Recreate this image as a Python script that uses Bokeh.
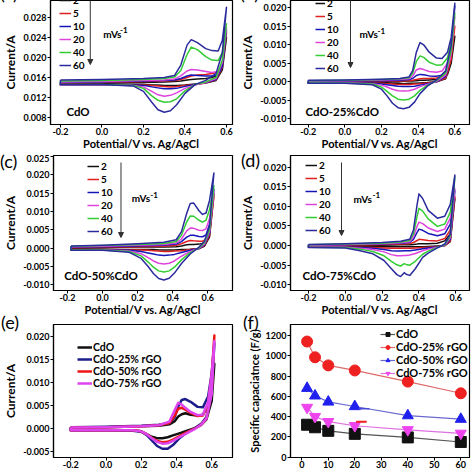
from bokeh.plotting import figure
from bokeh.layouts import column, row
from bokeh.models import (Range1d, FixedTicker, PrintfTickFormatter, Legend,
                          LegendItem, Label, Arrow, NormalHead, Div)
from bokeh.embed import file_html
from bokeh.resources import INLINE

# ------------------------------------------------------------------ data
SCAN_RATES = ["2", "5", "10", "20", "40", "60"]          # mV/s
CV_XTICKS = [-0.2, 0.0, 0.2, 0.4, 0.6]
PANEL_LETTERS = ["(a)", "(b)", "(c)", "(d)", "(e)", "(f)"]

# (a) CdO : potential (V) / current (mA)
A_E_UP = [-0.2, 0.0, 0.2, 0.3, 0.35, 0.38, 0.41, 0.43, 0.46, 0.50, 0.53, 0.56, 0.58, 0.60]
A_I_UP = [
    [14.8, 14.9, 15.0, 15.1, 15.2, 15.3, 15.5, 15.6, 15.7, 15.8, 16.0, 16.4, 17.6, 24.0],
    [14.9, 15.0, 15.2, 15.3, 15.4, 15.6, 16.0, 16.3, 16.5, 16.6, 16.8, 17.1, 18.5, 25.0],
    [15.0, 15.1, 15.3, 15.4, 15.5, 15.8, 16.3, 16.5, 16.4, 16.3, 16.3, 16.6, 18.2, 25.5],
    [15.1, 15.2, 15.4, 15.5, 15.7, 16.3, 17.3, 17.6, 17.5, 17.2, 17.0, 17.2, 19.0, 26.0],
    [15.3, 15.4, 15.6, 15.8, 16.1, 17.4, 20.6, 22.1, 21.6, 20.2, 19.5, 19.4, 21.0, 26.8],
    [15.5, 15.6, 15.8, 16.0, 16.4, 18.5, 22.5, 23.6, 23.0, 21.8, 21.4, 21.3, 23.5, 30.1],
]
A_E_DN = [0.60, 0.58, 0.55, 0.50, 0.45, 0.40, 0.36, 0.33, 0.30, 0.27, 0.24, 0.20, 0.15, 0.0, -0.2]
A_I_DN = [
    [24.0, 17.5, 15.4, 14.9, 14.7, 14.5, 14.4, 14.4, 14.4, 14.5, 14.5, 14.6, 14.6, 14.6, 14.6],
    [25.0, 18.0, 15.5, 14.9, 14.6, 14.4, 14.2, 14.1, 14.2, 14.3, 14.4, 14.5, 14.5, 14.5, 14.5],
    [25.5, 18.5, 15.6, 15.0, 14.6, 14.2, 13.8, 13.7, 13.7, 13.9, 14.1, 14.4, 14.5, 14.5, 14.5],
    [26.0, 19.0, 15.8, 15.0, 14.5, 13.8, 12.9, 12.4, 12.2, 12.5, 13.2, 14.1, 14.4, 14.5, 14.5],
    [26.8, 19.5, 16.0, 15.1, 14.6, 13.3, 11.7, 11.1, 11.0, 11.4, 12.3, 13.8, 14.4, 14.6, 14.6],
    [30.1, 21.0, 16.8, 15.4, 14.6, 12.8, 10.5, 9.3, 9.0, 9.5, 11.0, 13.2, 14.3, 14.6, 14.6],
]
A_YTICKS = [0.008, 0.012, 0.016, 0.020, 0.024, 0.028]

# (b) CdO-25%CdO
B_E_UP = [-0.2, 0.0, 0.2, 0.3, 0.35, 0.37, 0.39, 0.41, 0.43, 0.46, 0.50, 0.53, 0.56, 0.58, 0.60]
B_I_UP = [
    [0.0, 0.0, 0.1, 0.1, 0.2, 0.2, 0.3, 0.4, 0.4, 0.5, 0.6, 0.9, 2.0, 5.0, 12.3],
    [0.0, 0.1, 0.2, 0.2, 0.3, 0.4, 0.6, 0.8, 0.9, 0.9, 1.0, 1.3, 2.5, 6.0, 15.0],
    [0.1, 0.2, 0.3, 0.4, 0.6, 0.9, 1.7, 2.0, 1.9, 1.6, 1.5, 1.8, 3.5, 8.0, 20.5],
    [0.2, 0.3, 0.5, 0.6, 0.8, 1.5, 3.2, 3.6, 3.3, 2.8, 2.6, 2.9, 5.0, 9.5, 17.5],
    [0.3, 0.4, 0.6, 0.8, 1.1, 2.3, 5.5, 7.0, 6.6, 5.3, 4.5, 4.6, 6.5, 10.5, 18.5],
    [0.4, 0.5, 0.7, 0.9, 1.3, 3.0, 8.0, 10.6, 10.0, 8.0, 6.4, 6.3, 8.0, 12.0, 21.2],
]
B_E_DN = [0.60, 0.58, 0.55, 0.50, 0.45, 0.41, 0.38, 0.35, 0.32, 0.29, 0.26, 0.23, 0.20, 0.15, 0.0, -0.2]
B_I_DN = [
    [12.3, 5.0, 0.8, 0.0, -0.2, -0.3, -0.4, -0.4, -0.5, -0.4, -0.4, -0.3, -0.3, -0.3, -0.3, -0.3],
    [15.0, 6.0, 1.0, 0.0, -0.3, -0.5, -0.6, -0.7, -0.7, -0.7, -0.6, -0.5, -0.4, -0.3, -0.3, -0.3],
    [20.5, 8.0, 1.5, 0.0, -0.5, -0.9, -1.2, -1.3, -1.3, -1.2, -1.0, -0.8, -0.6, -0.4, -0.3, -0.3],
    [17.5, 7.5, 1.8, 0.1, -0.7, -1.3, -2.0, -2.4, -2.5, -2.4, -2.0, -1.4, -0.9, -0.5, -0.3, -0.3],
    [18.5, 8.5, 2.4, 0.3, -1.0, -2.3, -3.8, -4.7, -4.9, -4.7, -3.8, -2.6, -1.4, -0.6, -0.3, -0.3],
    [21.2, 10.0, 3.0, 0.5, -1.2, -3.2, -5.5, -6.9, -7.3, -7.0, -5.8, -3.8, -2.0, -0.8, -0.4, -0.4],
]
B_YTICKS = [-0.010, -0.005, 0.0, 0.005, 0.010, 0.015, 0.020]

# (c) CdO-50%CdO
C_E_UP = [-0.18, 0.0, 0.2, 0.35, 0.42, 0.45, 0.48, 0.50, 0.52, 0.55, 0.57, 0.59, 0.61, 0.635]
C_I_UP = [
    [0.1, 0.2, 0.3, 0.3, 0.4, 0.6, 0.9, 1.0, 1.0, 1.1, 1.3, 1.8, 4.0, 14.8],
    [0.2, 0.3, 0.4, 0.5, 0.8, 1.2, 1.8, 2.1, 2.0, 1.9, 1.9, 2.4, 5.0, 14.0],
    [0.3, 0.4, 0.6, 0.8, 1.1, 1.8, 3.0, 3.5, 3.5, 3.2, 3.1, 3.6, 6.5, 16.0],
    [0.4, 0.5, 0.8, 1.0, 1.4, 2.5, 4.7, 5.5, 5.4, 4.9, 4.8, 5.3, 8.0, 15.5],
    [0.5, 0.7, 1.0, 1.3, 1.8, 3.5, 7.2, 8.8, 8.7, 7.6, 7.1, 7.6, 10.5, 17.0],
    [0.6, 0.8, 1.2, 1.6, 2.3, 4.5, 9.5, 12.2, 12.3, 10.2, 9.2, 9.6, 13.0, 20.5],
]
C_E_DN = [0.635, 0.61, 0.58, 0.55, 0.50, 0.45, 0.41, 0.38, 0.35, 0.32, 0.29, 0.26, 0.22, 0.15, 0.0, -0.18]
C_I_DN = [
    [14.8, 3.0, 0.5, -0.1, -0.3, -0.4, -0.5, -0.5, -0.5, -0.5, -0.4, -0.4, -0.4, -0.4, -0.3, -0.3],
    [14.0, 3.5, 0.7, -0.1, -0.4, -0.7, -0.8, -0.9, -0.9, -0.8, -0.7, -0.6, -0.5, -0.5, -0.4, -0.4],
    [16.0, 4.0, 0.9, -0.1, -0.6, -1.2, -1.7, -1.9, -2.0, -1.9, -1.6, -1.3, -0.9, -0.6, -0.5, -0.5],
    [15.5, 4.5, 1.1, 0.0, -0.9, -2.2, -3.5, -4.1, -4.3, -4.1, -3.5, -2.6, -1.5, -0.8, -0.5, -0.5],
    [17.0, 5.0, 1.4, 0.1, -1.2, -3.2, -5.2, -6.2, -6.5, -6.2, -5.2, -3.8, -2.1, -0.9, -0.5, -0.5],
    [20.5, 6.0, 1.8, 0.3, -1.6, -4.2, -6.8, -8.2, -8.7, -8.3, -6.9, -5.0, -2.8, -1.1, -0.6, -0.6],
]
C_YTICKS = [-0.010, -0.005, 0.0, 0.005, 0.010, 0.015, 0.020, 0.025]

# (d) CdO-75%CdO
D_E_UP = [-0.2, 0.0, 0.2, 0.3, 0.35, 0.37, 0.39, 0.40, 0.42, 0.45, 0.50, 0.54, 0.57, 0.595]
D_I_UP = [
    [0.0, 0.0, 0.1, 0.2, 0.2, 0.3, 0.4, 0.5, 0.5, 0.5, 0.6, 1.2, 3.0, 12.0],
    [0.0, 0.1, 0.3, 0.4, 0.5, 0.8, 1.3, 1.6, 1.5, 1.3, 1.2, 1.8, 4.0, 12.5],
    [0.1, 0.2, 0.4, 0.6, 0.8, 1.6, 3.4, 4.2, 3.9, 3.1, 2.5, 3.0, 5.5, 14.0],
    [0.1, 0.3, 0.5, 0.7, 1.0, 2.2, 5.0, 6.0, 5.6, 4.5, 3.6, 4.2, 7.0, 14.5],
    [0.2, 0.4, 0.6, 0.9, 1.3, 3.0, 7.5, 9.5, 8.8, 6.8, 4.9, 5.5, 8.5, 17.5],
    [0.3, 0.5, 0.8, 1.1, 1.6, 4.0, 10.5, 13.2, 12.0, 9.0, 7.0, 7.5, 10.5, 18.0],
]
D_E_DN = [0.595, 0.57, 0.54, 0.50, 0.45, 0.42, 0.38, 0.35, 0.33, 0.32, 0.30, 0.28, 0.25, 0.21, 0.15, 0.08, 0.0, -0.2]
D_I_DN = [
    [12.0, 1.0, 0.0, -0.1, -0.2, -0.3, -0.3, -0.3, -0.3, -0.3, -0.3, -0.3, -0.3, -0.3, -0.3, -0.3, -0.3, -0.3],
    [12.5, 1.2, 0.0, -0.2, -0.4, -0.5, -0.6, -0.7, -0.7, -0.7, -0.7, -0.7, -0.7, -0.6, -0.5, -0.4, -0.4, -0.4],
    [14.0, 1.6, 0.0, -0.3, -0.6, -0.8, -1.1, -1.3, -1.3, -1.3, -1.4, -1.4, -1.3, -1.0, -0.7, -0.5, -0.4, -0.4],
    [14.5, 2.0, 0.1, -0.4, -0.9, -1.3, -2.0, -2.4, -2.5, -2.5, -2.6, -2.6, -2.3, -1.6, -1.0, -0.7, -0.4, -0.4],
    [17.5, 2.5, 0.2, -0.5, -1.4, -2.2, -4.0, -5.0, -4.8, -4.6, -5.2, -4.9, -4.0, -2.6, -1.5, -0.9, -0.5, -0.4],
    [18.0, 3.0, 0.4, -0.6, -1.9, -3.0, -5.9, -7.6, -7.3, -6.9, -7.9, -7.4, -5.9, -3.8, -2.1, -1.3, -0.6, -0.5],
]
D_YTICKS = [-0.010, -0.005, 0.0, 0.005, 0.010, 0.015, 0.020]

# (e) comparison at one scan rate
E_NAMES = ["CdO", "CdO-25% rGO", "CdO-50% rGO", "CdO-75% rGO"]
E_E_UP = [-0.2, 0.0, 0.2, 0.3, 0.36, 0.39, 0.41, 0.43, 0.45, 0.48, 0.52, 0.55, 0.58, 0.60, 0.615]
E_I_UP = [
    [0.2, 0.3, 0.5, 0.6, 0.9, 1.6, 2.6, 3.1, 3.3, 3.0, 2.8, 3.0, 5.0, 9.0, 14.1],
    [0.3, 0.4, 0.6, 0.8, 1.2, 2.5, 4.8, 6.2, 6.4, 5.8, 4.7, 4.6, 7.0, 12.0, 18.5],
    [0.2, 0.3, 0.5, 0.7, 1.2, 2.8, 4.3, 4.5, 4.1, 3.4, 2.7, 2.8, 5.5, 11.5, 20.2],
    [0.2, 0.3, 0.5, 0.7, 1.5, 4.0, 5.6, 5.2, 4.5, 3.6, 2.9, 3.0, 5.8, 12.0, 19.0],
]
E_E_DN = [0.615, 0.60, 0.57, 0.54, 0.50, 0.46, 0.42, 0.38, 0.35, 0.32, 0.29, 0.26, 0.23, 0.20, 0.15, 0.0, -0.2]
E_I_DN = [
    [14.1, 6.0, 2.0, 0.8, 0.0, -0.5, -1.0, -1.5, -1.9, -2.1, -2.1, -1.8, -1.2, -0.6, -0.4, -0.4, -0.4],
    [18.5, 8.0, 2.5, 1.0, 0.0, -0.8, -2.0, -3.6, -4.4, -4.4, -3.8, -2.6, -1.4, -0.7, -0.5, -0.4, -0.4],
    [20.2, 8.0, 2.2, 0.8, -0.1, -0.8, -1.6, -2.4, -2.9, -3.0, -2.7, -2.0, -1.2, -0.6, -0.4, -0.4, -0.4],
    [19.0, 7.5, 2.2, 0.8, -0.2, -1.0, -1.8, -2.7, -3.2, -3.3, -2.9, -2.1, -1.2, -0.6, -0.4, -0.4, -0.4],
]
E_YTICKS = [-0.005, 0.0, 0.005, 0.010, 0.015, 0.020]

# (f) specific capacitance (F/g) vs scan rate (mV/s)
F_RATE = [2, 5, 10, 20, 40, 60]
F_CDO = [320, 295, 260, 230, 195, 150]
F_25 = [1140, 985, 905, 855, 745, 630]
F_50 = [680, 605, 545, 500, 410, 375]
F_75 = [490, 400, 350, 310, 270, 235]
F_STRAY_RED_X = [20.5, 24.5]
F_STRAY_RED_Y = [350, 350]
F_STRAY_BLUE_X = [21.5, 25.5]
F_STRAY_BLUE_Y = [478, 478]
F_XTICKS = [0, 10, 20, 30, 40, 50, 60]
F_YTICKS = [0, 200, 400, 600, 800, 1000, 1200]

# ------------------------------------------------------------------ style / layout
FONT = "Lato"
RATE_COLORS = ["#111111", "#E02020", "#1616B8", "#DD44DD", "#33CC33", "#2B2B9E"]
E_COLORS = ["#111111", "#1C1C8A", "#EE1515", "#DD44EE"]

# frame boxes in page pixels (left, top, right, bottom) and data ranges
GEOM = {
    "a": ((49, 0, 232, 124), (-0.248, 0.629), (0.00653, 0.03148)),
    "b": ((290, 0, 469, 124), (-0.2966, 0.680), (-0.01154, 0.02197)),
    "c": ((49, 155, 232, 290), (-0.2798, 0.741), (-0.01155, 0.02527)),
    "d": ((290, 155, 469, 290), (-0.2978, 0.6744), (-0.01145, 0.02298)),
    "e": ((49, 324, 232, 457), (-0.298, 0.718), (-0.00630, 0.0226)),
    "f": ((290, 324, 469, 457), (-4.26, 63.28), (-3.0, 1308.0)),
}
# letter boxes (left, top) in page pixels
LETTER_POS = [(0, -16), (240, -16), (0, 152), (241, 151), (1, 313), (243, 313)]


def px2d(key, px, py):
    (L, T, R, B), (x0, x1), (y0, y1) = GEOM[key]
    return x0 + (px - L) / (R - L) * (x1 - x0), y1 - (py - T) / (B - T) * (y1 - y0)


def make_fig(key, width, height, bl, br, bt, bb, xticks, yticks, xfmt, yfmt,
             xtitle, ytitle):
    _, xr, yr = GEOM[key]
    p = figure(width=width, height=height, x_range=Range1d(*xr), y_range=Range1d(*yr),
               output_backend="svg", toolbar_location=None,
               min_border_left=bl, min_border_right=br, min_border_top=bt,
               min_border_bottom=bb)
    p.xgrid.visible = False
    p.ygrid.visible = False
    p.background_fill_color = "white"
    p.border_fill_color = "white"
    p.outline_line_color = "black"
    p.outline_line_width = 1.2
    p.outline_line_alpha = 1.0
    p.xaxis.ticker = FixedTicker(ticks=xticks)
    p.yaxis.ticker = FixedTicker(ticks=yticks)
    p.xaxis.formatter = PrintfTickFormatter(format=xfmt)
    p.yaxis.formatter = PrintfTickFormatter(format=yfmt)
    for ax in (p.xaxis[0], p.yaxis[0]):
        ax.major_tick_in = 0
        ax.major_tick_out = 3
        ax.minor_tick_in = 0
        ax.minor_tick_out = 0
        ax.axis_line_color = "black"
        ax.axis_line_width = 1.2
        ax.major_tick_line_color = "black"
        ax.major_label_text_font = FONT
        ax.major_label_text_font_size = "9px"
        ax.major_label_text_font_style = "bold"
        ax.major_label_text_color = "black"
        ax.axis_label_text_font = FONT
        ax.axis_label_text_font_style = "bold"
        ax.axis_label_text_color = "black"
    p.xaxis.major_label_standoff = 0
    p.yaxis.major_label_standoff = 1
    if xtitle:
        p.xaxis.axis_label = xtitle
        p.xaxis.axis_label_text_font_size = "11px"
        p.xaxis.axis_label_standoff = -1
    p.yaxis.axis_label = ytitle
    p.yaxis.axis_label_text_font_size = "12px"
    p.yaxis.axis_label_standoff = 2
    return p


def add_text(p, key, px, py, text, size, style="bold", align="left", baseline="middle"):
    x, y = px2d(key, px, py)
    p.add_layout(Label(x=x, y=y, text=text, text_font=FONT, text_font_size=size,
                       text_font_style=style, text_align=align, text_baseline=baseline,
                       text_color="black"))


def add_arrow(p, key, px, py0, py1):
    x, y0 = px2d(key, px, py0)
    _, y1 = px2d(key, px, py1)
    p.add_layout(Arrow(end=NormalHead(size=5, line_color="#333333", fill_color="#333333",
                                      line_width=1),
                       x_start=x, y_start=y0, x_end=x, y_end=y1,
                       line_color="#333333", line_width=1))


def draw_cv(p, e_up, e_dn, i_up, i_dn, colors, width):
    rends = []
    for k in range(len(i_up)):
        xs = list(e_up) + list(e_dn) + [e_up[0]]
        ys = [v / 1000.0 for v in list(i_up[k]) + list(i_dn[k]) + [i_up[k][0]]]
        rends.append(p.line(xs, ys, line_color=colors[k], line_width=width,
                            line_join="round"))
    return rends


def add_legend(p, key, labels, rends, px_left, py_bottom, glyph_w, font_size, standoff,
               spacing=1):
    (L, T, R, B), _, _ = GEOM[key]
    items = [LegendItem(label=lab, renderers=r if isinstance(r, list) else [r])
             for lab, r in zip(labels, rends)]
    leg = Legend(items=items, location=(px_left - L, B - py_bottom),
                 background_fill_alpha=0, border_line_alpha=0, padding=0, margin=0,
                 spacing=spacing, glyph_width=glyph_w, glyph_height=10, label_height=10,
                 label_standoff=standoff, label_text_font=FONT,
                 label_text_font_size=font_size, label_text_font_style="bold",
                 label_text_color="black")
    p.add_layout(leg)


XT = "Potential/V vs. Ag/AgCl"
YT = "Current/A"

# ---- (a)   figure rows: 0-154, 154-320, 320-474
pa = make_fig("a", 237, 154, 49, 5, 0, 30, CV_XTICKS, A_YTICKS, "%.1f", "%.3f", XT, YT)
ra = draw_cv(pa, A_E_UP, A_E_DN, A_I_UP, A_I_DN, RATE_COLORS, 1.5)
add_legend(pa, "a", SCAN_RATES, ra, 58, 71, 12, "10px", 2)
add_arrow(pa, "a", 89, -4, 64)
add_text(pa, "a", 102, 33, "mVs", "10px")
add_text(pa, "a", 119, 29, "-1", "8px")
add_text(pa, "a", 65, 111, "CdO", "11.5px")

# ---- (b)
pb = make_fig("b", 237, 154, 53, 5, 0, 30, CV_XTICKS, B_YTICKS, "%.1f", "%.3f", XT, YT)
rb = draw_cv(pb, B_E_UP, B_E_DN, B_I_UP, B_I_DN, RATE_COLORS, 1.5)
add_legend(pb, "b", SCAN_RATES, rb, 315, 74, 10, "10px", 2)
add_arrow(pb, "b", 350, -4, 67)
add_text(pb, "b", 359, 33, "mVs", "10px")
add_text(pb, "b", 377, 30, "-1", "8px")
add_text(pb, "b", 305, 111, "CdO-25%CdO", "11.5px")

# ---- (c)
pc = make_fig("c", 237, 166, 49, 5, 1, 30, CV_XTICKS, C_YTICKS, "%.1f", "%.3f", XT, YT)
rc = draw_cv(pc, C_E_UP, C_E_DN, C_I_UP, C_I_DN, RATE_COLORS, 1.5)
add_legend(pc, "c", SCAN_RATES, rc, 83, 237, 12, "10px", 2)
add_arrow(pc, "c", 118, 162, 237)
add_text(pc, "c", 129, 197, "mVs", "10px")
add_text(pc, "c", 148, 194, "-1", "8px")
add_text(pc, "c", 60, 275, "CdO-50%CdO", "11.5px")

# ---- (d)
pd = make_fig("d", 237, 166, 53, 5, 1, 30, CV_XTICKS, D_YTICKS, "%.1f", "%.3f", XT, YT)
rd = draw_cv(pd, D_E_UP, D_E_DN, D_I_UP, D_I_DN, RATE_COLORS, 1.5)
add_legend(pd, "d", SCAN_RATES, rd, 305, 236, 12, "10px", 2)
add_arrow(pd, "d", 341, 162, 235)
add_text(pd, "d", 353, 198, "mVs", "10px")
add_text(pd, "d", 372, 194, "-1", "8px")
add_text(pd, "d", 302, 275, "CdO-75%CdO", "11.5px")

# ---- (e)
pe = make_fig("e", 237, 154, 49, 5, 4, 17, CV_XTICKS, E_YTICKS, "%.1f", "%.3f", None, YT)
re_ = draw_cv(pe, E_E_UP, E_E_DN, E_I_UP, E_I_DN, E_COLORS, 2.5)
add_legend(pe, "e", E_NAMES, re_, 73, 389, 15, "10.5px", 1, spacing=0)

# ---- (f)
pf = make_fig("f", 237, 154, 53, 5, 4, 17, F_XTICKS, F_YTICKS, "%d", "%d", None,
              "Specific capaciatnce (F/g)")
pf.yaxis.axis_label_text_font_size = "11px"
f_series = [
    (F_CDO, "#555555", "#111111", "square", "CdO"),
    (F_25, "#E06A6A", "#EE2020", "circle", "CdO-25% rGO"),
    (F_50, "#6A6AD0", "#2020EE", "triangle", "CdO-50% rGO"),
    (F_75, "#E070E0", "#EE44EE", "inverted_triangle", "CdO-75% rGO"),
]
rf = []
for vals, lc, mc, mk, name in f_series:
    l = pf.line(F_RATE, vals, line_color=lc, line_width=1.2)
    s = pf.scatter(F_RATE, vals, marker=mk, size=11, fill_color=mc, line_color=mc)
    rf.append([l, s])
pf.line(F_STRAY_RED_X, F_STRAY_RED_Y, line_color="#EE2020", line_width=2)
pf.line(F_STRAY_BLUE_X, F_STRAY_BLUE_Y, line_color="#4A4AD8", line_width=1.5)
add_legend(pf, "f", [s[4] for s in f_series], rf, 380, 379, 15, "11px", 1, spacing=0)

# ---- panel letters (outside the frames, so as absolutely placed text)
letters = []
for txt, (lx, ty) in zip(PANEL_LETTERS, LETTER_POS):
    letters.append(Div(text=txt, styles={
        "position": "absolute", "left": f"{lx}px", "top": f"{ty}px",
        "font-family": FONT, "font-size": "18px", "line-height": "1",
        "color": "black", "margin": "0", "padding": "0", "z-index": "10"}))

layout = column(row(pa, pb), row(pc, pd), row(pe, pf), *letters)
open("out.html", "w").write(file_html(layout, INLINE))
